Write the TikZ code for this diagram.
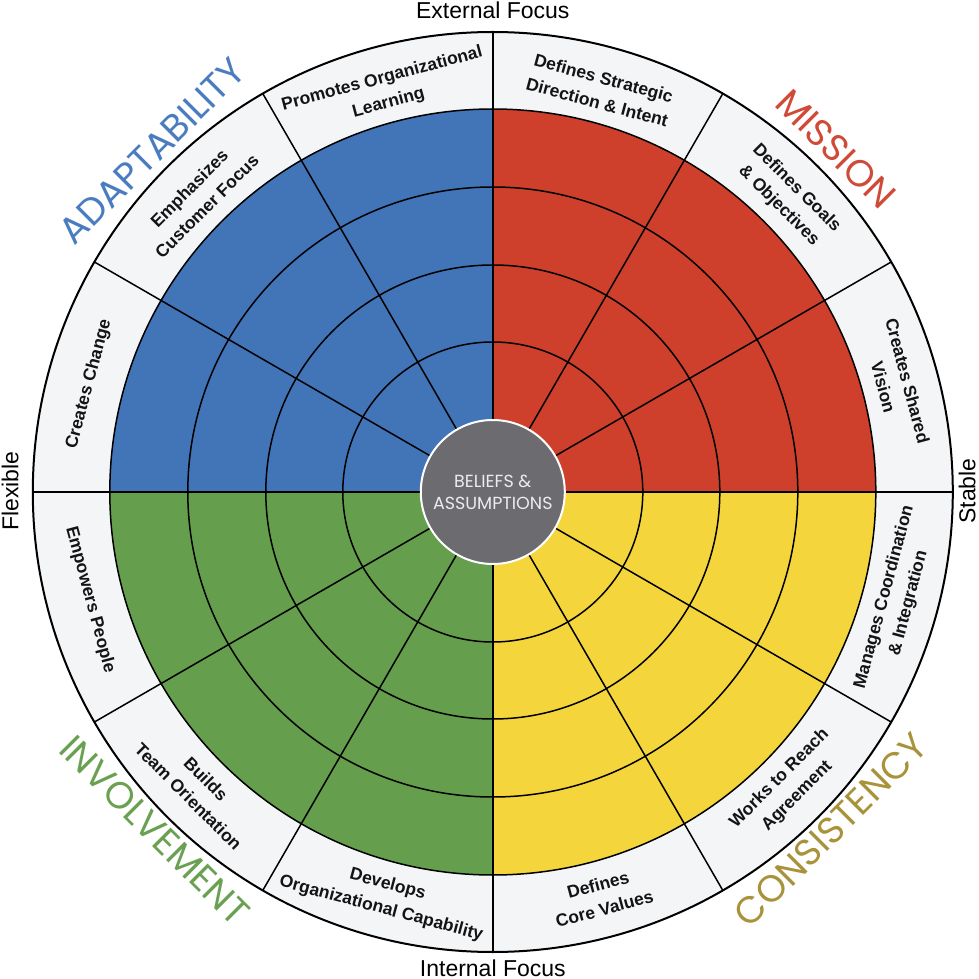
\documentclass[tikz,border=0pt]{standalone}
\usepackage{fontspec}
\setmainfont{Liberation Sans}
\newfontfamily\catfont{Poppins}
\definecolor{qblue}{HTML}{4274B8}
\definecolor{qred}{HTML}{CE402C}
\definecolor{qgreen}{HTML}{659E4D}
\definecolor{qyellow}{HTML}{F4D63C}
\definecolor{bandgray}{HTML}{F4F5F7}
\definecolor{coregray}{HTML}{6C6B70}
\definecolor{coretextcol}{HTML}{ECECEC}
\definecolor{tblue}{HTML}{4A7CC0}
\definecolor{tred}{HTML}{D04A38}
\definecolor{tgreen}{HTML}{6AA052}
\definecolor{tgold}{HTML}{A8923A}
\tikzset{
  ringline/.style={line width=1.5pt, draw=black},
  axisline/.style={line width=2pt, draw=black},
  outerline/.style={line width=2pt, draw=black},
  lab/.style={font=\fontsize{17.5}{25}\selectfont\bfseries, align=center, inner sep=0pt, text=black!92},
  cat/.style={font=\catfont\fontsize{37.5}{42}\selectfont, inner sep=0pt},
  axislab/.style={font=\fontsize{23}{27}\selectfont, inner sep=0pt, text=black},
  coretext/.style={font=\catfont\fontsize{17.5}{22}\selectfont, align=center, text=coretextcol, inner sep=0pt}
}
\begin{document}
\begin{tikzpicture}[x=1pt,y=1pt]
\useasboundingbox (-492.8,-487) rectangle (486.2,492);
% band
\fill[bandgray] (0,0) circle (460);
% quadrants
\fill[qred] (0,0) -- (0:383) arc[start angle=0,end angle=90,radius=383] -- cycle;
\fill[qblue] (0,0) -- (90:383) arc[start angle=90,end angle=180,radius=383] -- cycle;
\fill[qgreen] (0,0) -- (180:383) arc[start angle=180,end angle=270,radius=383] -- cycle;
\fill[qyellow] (0,0) -- (270:383) arc[start angle=270,end angle=360,radius=383] -- cycle;
% rings
\foreach \r in {150,227,305,383} \draw[ringline] (0,0) circle (\r);
% radial dividers
\foreach \a in {30,60,120,150,210,240,300,330} \draw[ringline] (\a:72) -- (\a:460);
% axes
\draw[axisline] (-460,0) -- (460,0);
\draw[axisline] (0,-460) -- (0,460);
\draw[outerline] (0,0) circle (460);
% core
\node[circle, fill=coregray, draw=white, line width=2pt, minimum size=144pt, inner sep=0pt] (core) at (0,0) {};
\node[coretext] (coretxt) at (0,0) {BELIEFS \&\\ASSUMPTIONS};
% sector labels
\node[lab, rotate=15]  (l105) at (105:415) {Promotes Organizational\\Learning};
\node[lab, rotate=45]  (l135) at (135:417) {Emphasizes\\Customer Focus};
\node[lab, rotate=75]  (l165) at (165:418) {Creates Change};
\node[lab, rotate=-15] (l75)  at (75:416)  {Defines Strategic\\Direction \& Intent};
\node[lab, rotate=-45] (l45)  at (45:417)  {Defines Goals\\\& Objectives};
\node[lab, rotate=-75] (l15)  at (15:417)  {Creates Shared\\Vision};
\node[lab, rotate=75]  (l345) at (-15:418) {Manages Coordination\\\& Integration};
\node[lab, rotate=45]  (l315) at (-45:418) {Works to Reach\\Agreement};
\node[lab, rotate=15]  (l285) at (-75:419) {Defines\\Core Values};
\node[lab, rotate=-15] (l255) at (-105:419) {Develops\\Organizational Capability};
\node[lab, rotate=-45] (l225) at (-135:418) {Builds\\Team Orientation};
\node[lab, rotate=-75] (l195) at (-165:417) {Empowers People};
% category labels
\node[cat, text=tblue, rotate=45]  (adapt)   at (135:482) {ADAPTABILITY};
\node[cat, text=tred, rotate=-45]  (mission) at (45:485) {MISSION};
\node[cat, text=tgreen, rotate=-45] (involve) at (-135:478) {INVOLVEMENT};
\node[cat, text=tgold, rotate=45]  (consist) at (-45:478) {CONSISTENCY};
% axis labels
\node[axislab, anchor=base] (ext) at (0,473.5) {External Focus};
\node[axislab, anchor=base] (int) at (0,-484) {Internal Focus};
\node[axislab, anchor=base, rotate=90] (flex) at (-474.5,1) {Flexible};
\node[axislab, anchor=base, rotate=90] (stab) at (482.5,1) {Stable};
\end{tikzpicture}
\end{document}
